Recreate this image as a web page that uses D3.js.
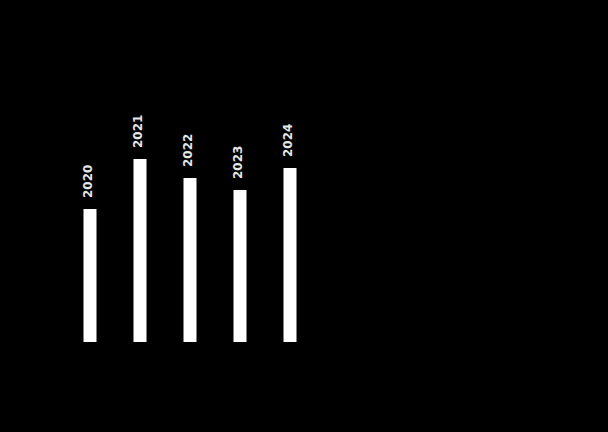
<!DOCTYPE html>
<html>
<head>
<meta charset="utf-8">
<script src="https://cdn.jsdelivr.net/npm/d3@7"></script>
<style>
  html, body { margin: 0; padding: 0; background: #000; }
  svg { display: block; }
  .label { font-family: "DejaVu Sans", sans-serif; font-weight: bold; font-size: 12px; fill: #e6e6e6; }
</style>
</head>
<body>
<script>
var years = ["2020", "2021", "2022", "2023", "2024"];
var values = [66.5, 91.5, 82, 76, 87];

var width = 608;
var height = 432;

var svg = d3.select("body").append("svg")
  .attr("width", width)
  .attr("height", height);

svg.append("rect")
  .attr("width", width)
  .attr("height", height)
  .attr("fill", "#000");

// soft edge like the video frame
svg.append("defs").append("filter")
  .attr("id", "soft")
  .append("feGaussianBlur")
  .attr("stdDeviation", 0.5);

var x = d3.scaleBand()
  .domain(years)
  .range([65, 315])
  .paddingInner(0.74)
  .paddingOuter(0.37);

var y = d3.scaleLinear()
  .domain([0, 100])
  .range([342, 142]);

var data = years.map(function(d, i) { return {year: d, value: values[i]}; });

svg.selectAll(".bar")
  .data(data)
  .enter()
  .append("rect")
  .attr("class", "bar")
  .attr("x", function(d) { return x(d.year); })
  .attr("y", function(d) { return y(d.value); })
  .attr("width", x.bandwidth())
  .attr("height", function(d) { return y(0) - y(d.value); })
  .attr("fill", "#fff")
  .attr("filter", "url(#soft)");

svg.selectAll(".label")
  .data(data)
  .enter()
  .append("text")
  .attr("class", "label")
  .attr("transform", function(d) {
    return "translate(" + (x(d.year) + x.bandwidth() / 2 + 2) + "," + (y(d.value) - 11) + ") rotate(-90)";
  })
  .attr("text-anchor", "start")
  .text(function(d) { return d.year; });
</script>
</body>
</html>
